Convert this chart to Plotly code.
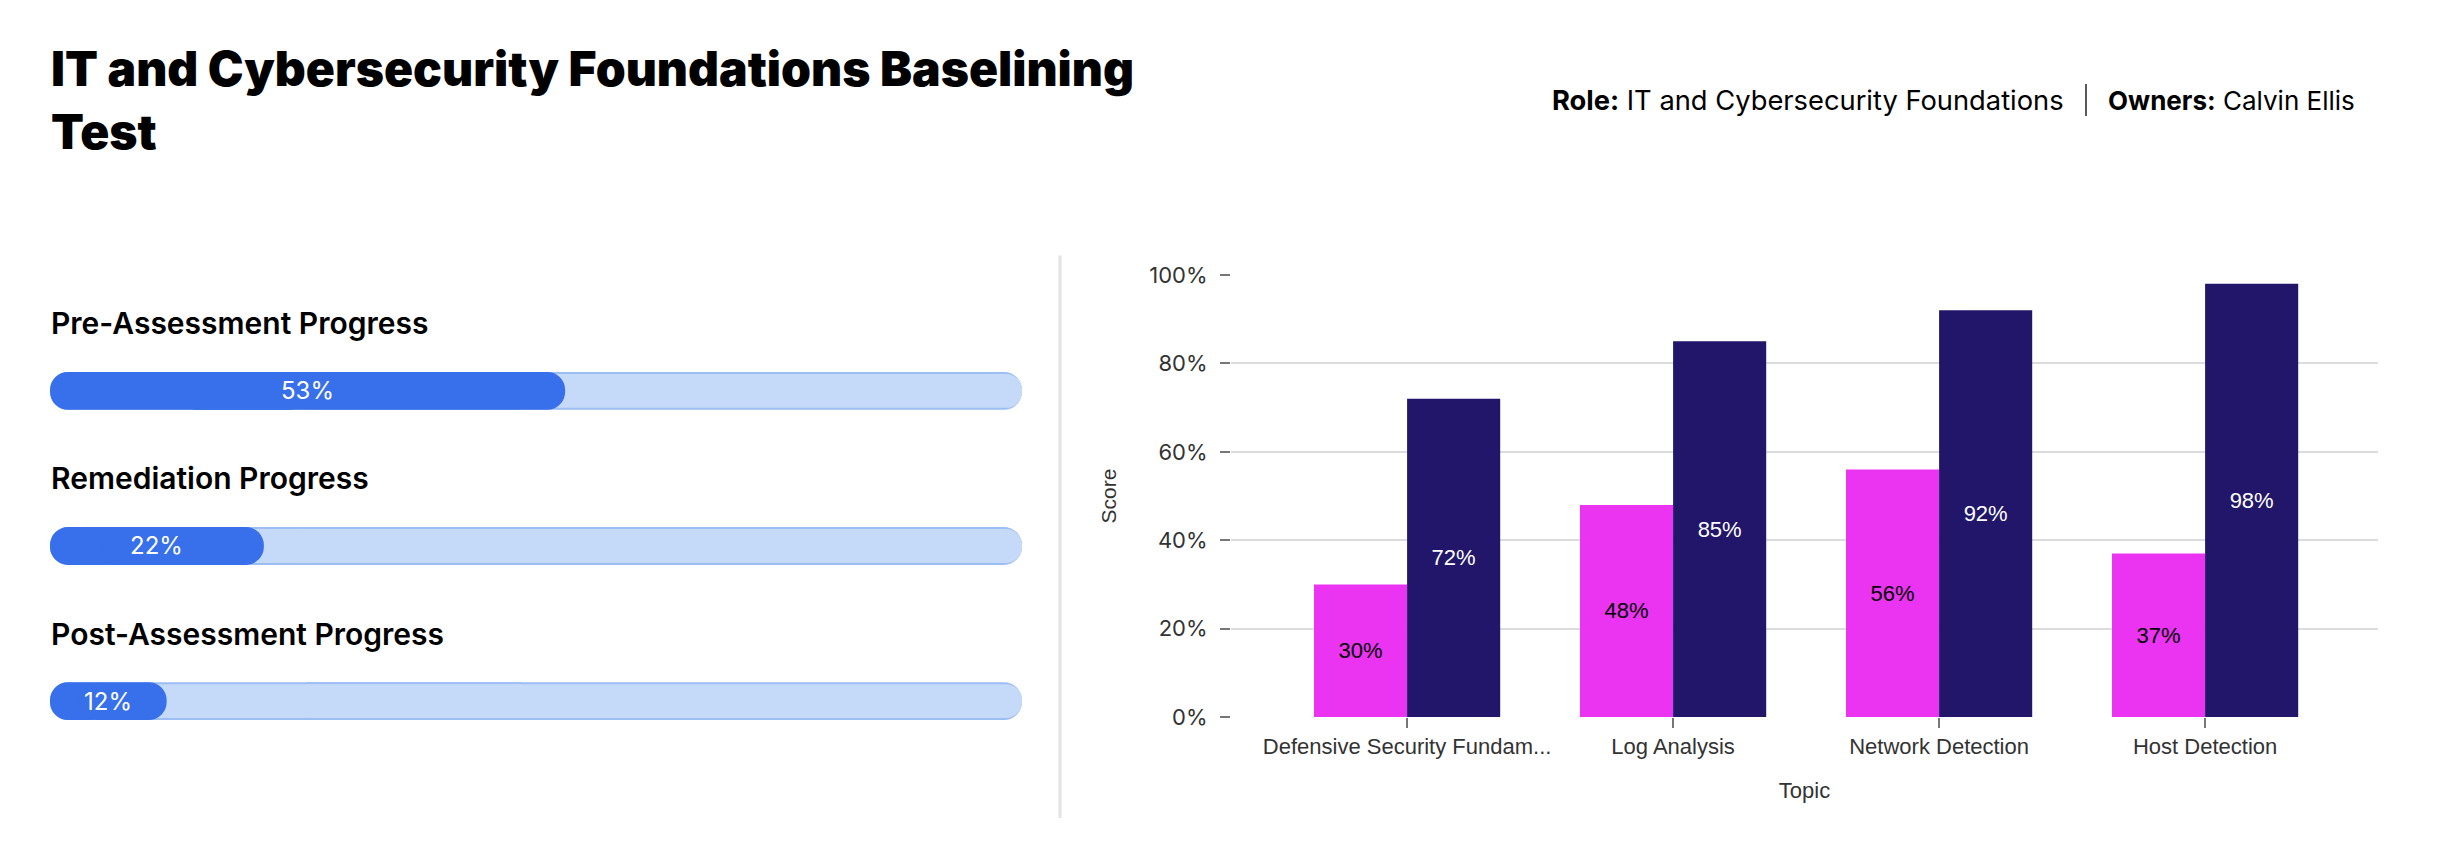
import plotly.graph_objects as go

W, H = 2448, 852
OFF = 8  # the page body margin that shifts the figure

# ---------------- data ----------------
title_lines = ["IT and Cybersecurity Foundations Baselining", "Test"]
role_text = "IT and Cybersecurity Foundations"
owners_text = "Calvin Ellis"

progress_labels = ["Pre-Assessment Progress", "Remediation Progress", "Post-Assessment Progress"]
progress_values = [53, 22, 12]
progress_total = [100, 100, 100]

topics = ["Defensive Security Fundam...", "Log Analysis", "Network Detection", "Host Detection"]
pre_scores = [30, 48, 56, 37]
post_scores = [72, 85, 92, 98]
score_ticks = [0, 20, 40, 60, 80, 100]
score_ticktext = [f"{t}%" for t in score_ticks]

# ---------------- style ----------------
PINK = "#EB33F2"
NAVY = "#21166A"
FILL = "#386FEA"
TRACK = "#C5D9F8"
TRACK_BORDER = "#9DBDF5"
TXT = "#333333"
SANS = "Liberation Sans, Arial, sans-serif"
INTER = "Inter, sans-serif"


def px_x(p):
    return (p - OFF) / W


def px_y(p):
    return 1 - (p - OFF) / H


fig = go.Figure()


def pill(values, color, width):
    """Two overlapping halves so both ends of the pill are rounded."""
    left = go.Bar(
        orientation="h", y=progress_labels,
        x=[-v / 2 for v in values], base=[v / 2 for v in values],
        width=width, offset=-width / 2,
        marker=dict(color=color, cornerradius="50%", line=dict(width=0)),
        xaxis="x2", yaxis="y2", hoverinfo="skip", showlegend=False,
    )
    right = go.Bar(
        orientation="h", y=progress_labels,
        x=[v * 3 / 4 for v in values], base=[v / 4 for v in values],
        width=width, offset=-width / 2,
        marker=dict(color=color, cornerradius="50%", line=dict(width=0)),
        xaxis="x2", yaxis="y2", hoverinfo="skip", showlegend=False,
    )
    return [left, right]


BAR_W = 39 / 160  # bar thickness in category units (category pitch is 160 px)
for tr in pill(progress_total, TRACK_BORDER, BAR_W):
    fig.add_trace(tr)
for tr in pill(progress_total, TRACK, 35 / 160):
    fig.add_trace(tr)
for tr in pill(progress_values, FILL, BAR_W):
    fig.add_trace(tr)

# grouped bar chart
fig.add_trace(go.Bar(
    name="Pre-Assessment", x=topics, y=pre_scores, marker=dict(color=PINK, line=dict(width=0)),
    text=[f"{v}%" for v in pre_scores], textposition="inside", insidetextanchor="middle",
    textangle=0, textfont=dict(family=SANS, size=22, color="#000000"), showlegend=False,
))
fig.add_trace(go.Bar(
    name="Post-Assessment", x=topics, y=post_scores, marker=dict(color=NAVY, line=dict(width=0)),
    text=[f"{v}%" for v in post_scores], textposition="inside", insidetextanchor="middle",
    textangle=0, textfont=dict(family=SANS, size=22, color="#FFFFFF"), showlegend=False,
))

annotations = []
# progress titles and value labels
for lab, v in zip(progress_labels, progress_values):
    annotations.append(dict(
        x=0, y=lab, xref="x2", yref="y2", xanchor="left", yanchor="middle",
        yshift=67.5, text=lab, showarrow=False, borderpad=0,
        font=dict(family=INTER, size=30, color="#000000", weight=600),
    ))
    annotations.append(dict(
        x=v / 2, y=lab, xref="x2", yref="y2", xanchor="center", yanchor="middle",
        text=f"{v}%", showarrow=False, borderpad=0,
        font=dict(family=INTER, size=24, color="#FFFFFF"),
    ))

# main title (two lines, positioned by cap middle)
for line, ymid in zip(title_lines, [57, 122]):
    annotations.append(dict(
        x=px_x(50), y=px_y(ymid), xref="paper", yref="paper", xanchor="left", yanchor="middle",
        text=line, showarrow=False, borderpad=0,
        font=dict(family=INTER, size=48, color="#000000", weight=900),
    ))

# header right
annotations.append(dict(
    x=px_x(2107), y=px_y(90.5), xref="paper", yref="paper", xanchor="left", yanchor="middle",
    text=f"<b>Owners:</b> {owners_text}", showarrow=False, borderpad=0,
    font=dict(family=INTER, size=26, color="#000000"),
))
annotations.append(dict(
    x=px_x(2065), y=px_y(90.5), xref="paper", yref="paper", xanchor="right", yanchor="middle",
    text=f"<b>Role:</b> {role_text}", showarrow=False, borderpad=0,
    font=dict(family=INTER, size=27.3, color="#000000"),
))

shapes = [
    dict(type="line", xref="paper", yref="paper", x0=px_x(2086), x1=px_x(2086),
         y0=px_y(73), y1=px_y(106), line=dict(color="#222222", width=1.5)),
    dict(type="line", xref="paper", yref="paper", x0=px_x(1060), x1=px_x(1060),
         y0=px_y(250), y1=px_y(830), line=dict(color="#E4E4E4", width=3)),
]

fig.update_layout(
    width=W, height=H, margin=dict(l=0, r=0, t=0, b=0),
    paper_bgcolor="white", plot_bgcolor="white",
    barmode="group", bargap=0.3, bargroupgap=0,
    showlegend=False,
    annotations=annotations, shapes=shapes,
    xaxis=dict(
        domain=[px_x(1231), px_x(2378)], range=[-0.662, 3.65],
        showgrid=False, zeroline=False, showline=False,
        ticks="outside", ticklen=10, tickwidth=2, tickcolor="#777777",
        tickfont=dict(family=SANS, size=22, color=TXT),
        title=dict(text="Topic", font=dict(family=SANS, size=22, color=TXT), standoff=24),
    ),
    yaxis=dict(
        domain=[px_y(726), px_y(270)], range=[0, 100],
        tickmode="array", tickvals=score_ticks, ticktext=score_ticktext,
        showgrid=True, gridcolor="#DCDCDC", gridwidth=2, zeroline=False, showline=False,
        ticks="outside", ticklen=10, tickwidth=2, tickcolor="#777777",
        tickfont=dict(family=INTER, size=22, color=TXT), ticklabelstandoff=8,
        title=dict(text="Score", font=dict(family=SANS, size=21, color=TXT), standoff=26),
    ),
    xaxis2=dict(
        domain=[px_x(50), px_x(1022)], range=[0, 100], anchor="y2",
        showgrid=False, zeroline=False, showline=False, showticklabels=False, ticks="",
    ),
    yaxis2=dict(
        domain=[px_y(789.5), px_y(309.5)], type="category", categoryorder="array",
        categoryarray=progress_labels, range=[2.5, -0.5], anchor="x2",
        showgrid=False, zeroline=False, showline=False, showticklabels=False, ticks="",
    ),
)

fig.write_html("out.html")
